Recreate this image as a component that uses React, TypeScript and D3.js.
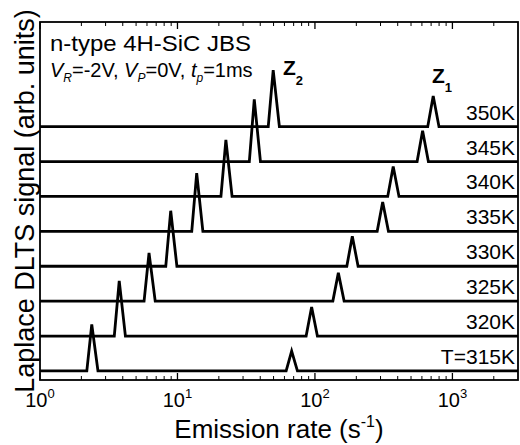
import React from "react";
import * as d3 from "d3";

const temps = ["T=315K", "320K", "325K", "330K", "335K", "340K", "345K", "350K"];
const z2Rate = [2.38, 3.77, 6.21, 8.93, 13.8, 22.5, 36.2, 49.7];
const z2Amp = [1.33, 1.58, 1.38, 1.59, 1.67, 1.62, 1.78, 1.62];
const z1Rate = [67.7, 94.6, 148, 187, 311, 371, 607, 725];
const z1Amp = [0.57, 0.83, 0.81, 0.86, 0.84, 0.86, 0.88, 0.88];
const majorTicks = [1, 10, 100, 1000];
const tickExp = ["0", "1", "2", "3"];
const xDomain = [1, 3000];
const yDomain = [-0.26, 10];

const W = 520, H = 445;
const M = { left: 40, right: 518, top: 22, bottom: 380 };
const FONT = "'Liberation Sans', Arial, sans-serif";

export default function App() {
  const x = d3.scaleLog().domain(xDomain).range([M.left, M.right]);
  const y = d3.scaleLinear().domain(yDomain).range([M.bottom, M.top]);
  const lg = Math.log10;
  const pw = (v: number) => Math.pow(10, v);

  const traces = temps.map((t, i) => {
    const pts: [number, number][] = [
      [xDomain[0], 0],
      [pw(lg(z2Rate[i]) - 0.036), 0],
      [z2Rate[i], z2Amp[i]],
      [pw(lg(z2Rate[i]) + 0.045), 0],
      [pw(lg(z1Rate[i]) - 0.04), 0],
      [z1Rate[i], z1Amp[i]],
      [pw(lg(z1Rate[i]) + 0.042), 0],
      [xDomain[1], 0],
    ];
    const line = d3
      .line<[number, number]>()
      .x((d) => x(d[0]))
      .y((d) => y(d[1] + i));
    return { t, i, d: line(pts) || "" };
  });

  const minorTicks: number[] = [];
  for (let dec = 1; dec <= 1000; dec *= 10)
    for (let k = 2; k <= 9; k++) if (k * dec < xDomain[1]) minorTicks.push(k * dec);

  return (
    <svg
      width={W}
      height={H}
      style={{ position: "absolute", left: 0, top: 0, display: "block", background: "#fff" }}
      fontFamily={FONT}
    >
      <rect x={0} y={0} width={W} height={H} fill="#fff" />
      <defs>
        <clipPath id="plot">
          <rect x={M.left} y={M.top} width={M.right - M.left} height={M.bottom - M.top} />
        </clipPath>
      </defs>
      <g clipPath="url(#plot)">
        {traces.map((tr) => (
          <path key={tr.t} d={tr.d} fill="none" stroke="#000" strokeWidth={2.8} strokeLinejoin="miter" />
        ))}
      </g>
      {majorTicks.map((v) => (
        <g key={"M" + v}>
          <line x1={x(v)} x2={x(v)} y1={M.bottom} y2={M.bottom - 7} stroke="#000" strokeWidth={1.3} />
          <line x1={x(v)} x2={x(v)} y1={M.top} y2={M.top + 7} stroke="#000" strokeWidth={1.3} />
        </g>
      ))}
      {minorTicks.map((v) => (
        <g key={"m" + v}>
          <line x1={x(v)} x2={x(v)} y1={M.bottom} y2={M.bottom - 4} stroke="#000" strokeWidth={1} />
          <line x1={x(v)} x2={x(v)} y1={M.top} y2={M.top + 4} stroke="#000" strokeWidth={1} />
        </g>
      ))}
      <rect
        x={M.left}
        y={M.top}
        width={M.right - M.left}
        height={M.bottom - M.top}
        fill="none"
        stroke="#000"
        strokeWidth={1.8}
      />
      {majorTicks.map((v, k) => (
        <text key={"t" + v} x={x(v)} y={407} textAnchor="middle" fontSize={20}>
          10
          <tspan fontSize={13} dy={-9}>
            {tickExp[k]}
          </tspan>
        </text>
      ))}
      {traces.map((tr) => (
        <text key={"l" + tr.t} x={515} y={y(tr.i) - 7} textAnchor="end" fontSize={21}>
          {tr.t}
        </text>
      ))}
      <text x={50} y={51} fontSize={22} textLength={201} lengthAdjust="spacingAndGlyphs">
        n-type 4H-SiC JBS
      </text>
      <text x={50} y={77} fontSize={20}>
        <tspan fontStyle="italic">V</tspan>
        <tspan fontStyle="italic" fontSize={12} dy={5}>R</tspan>
        <tspan dy={-5}>=-2V, </tspan>
        <tspan fontStyle="italic">V</tspan>
        <tspan fontStyle="italic" fontSize={12} dy={5}>P</tspan>
        <tspan dy={-5}>=0V, </tspan>
        <tspan fontStyle="italic">t</tspan>
        <tspan fontStyle="italic" fontSize={12} dy={5}>p</tspan>
        <tspan dy={-5}>=1ms</tspan>
      </text>
      <text x={283} y={75} fontSize={21} fontWeight="bold">
        Z<tspan fontSize={13} dy={10}>2</tspan>
      </text>
      <text x={432} y={83} fontSize={21} fontWeight="bold">
        Z<tspan fontSize={13} dy={9}>1</tspan>
      </text>
      <text x={(M.left + M.right) / 2} y={438} textAnchor="middle" fontSize={26}>
        Emission rate (s<tspan fontSize={16} dy={-11}>-1</tspan>
        <tspan dy={11}>)</tspan>
      </text>
      <text
        transform={`translate(34,${(M.top + M.bottom) / 2}) rotate(-90)`}
        textAnchor="middle"
        fontSize={27}
      >
        Laplace DLTS signal (arb. units)
      </text>
    </svg>
  );
}
